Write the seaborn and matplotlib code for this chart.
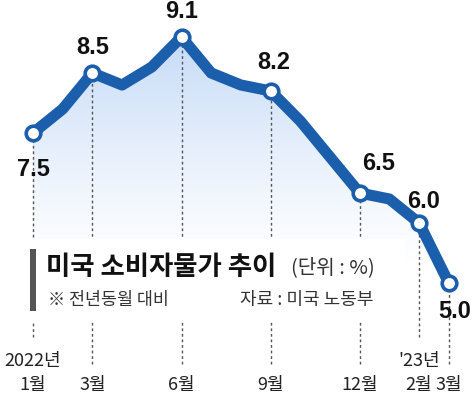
import numpy as np
import pandas as pd
import matplotlib
matplotlib.use("Agg")
import matplotlib.pyplot as plt
import matplotlib.transforms as mtrans
from matplotlib.patches import Polygon, Rectangle
import seaborn as sns

# 미국 소비자물가 상승률 (전년동월 대비, %)
months = ["2022-01", "2022-02", "2022-03", "2022-04", "2022-05", "2022-06",
          "2022-07", "2022-08", "2022-09", "2022-10", "2022-11", "2022-12",
          "2023-01", "2023-02", "2023-03"]
cpi = [7.5, 7.9, 8.5, 8.3, 8.6, 9.1, 8.5, 8.3, 8.2, 7.7, 7.1, 6.5, 6.4, 6.0, 5.0]
marked = [0, 2, 5, 8, 11, 13, 14]
tick_labels = ["1월", "3월", "6월", "9월", "12월", "2월", "3월"]
year_labels = {0: "2022년", 13: "'23년"}

# label offsets in pixels (dx, dy) for each marked point
label_offsets = [(0, -35), (0, 27), (0, 27), (3, 30), (19, 30), (4, 23), (6, -28)]

sns.set_style("white")
plt.rcParams["font.family"] = ["Noto Sans CJK KR", "DejaVu Sans"]

W, H = 474, 402
fig = plt.figure(figsize=(W / 100, H / 100), dpi=100)
ax = fig.add_axes([0, 0, 1, 1])

df = pd.DataFrame({"month": months, "cpi": cpi})
df["i"] = np.arange(len(df))

blue = "#1b5eab"
ax.set_xlim(-33 / 29.7, (W - 33) / 29.7)
ax.set_ylim(7.5 - (H - 134) / 60, 7.5 + 134 / 60)
ax.axis("off")


def px(x, y):
    return (x / W, 1 - y / H)


# gradient fill under the line
poly = Polygon(list(zip(df["i"], df["cpi"])) + [(14, 3.6), (0, 3.6)],
               closed=True, facecolor="none", edgecolor="none")
ax.add_patch(poly)
grad = np.linspace(1, 0, 256).reshape(-1, 1) ** 1.2
rgba = np.zeros((256, 1, 4))
rgba[..., 0] = 0.78
rgba[..., 1] = 0.86
rgba[..., 2] = 0.97
rgba[..., 3] = grad
im = ax.imshow(rgba, extent=(0, 14, 5.3, 9.1), aspect="auto", zorder=1,
               interpolation="bilinear")
im.set_clip_path(poly)

# dashed guides
for k, i in enumerate(marked):
    bottom = 4.1 if i in year_labels else 3.65
    ax.vlines(i, bottom, cpi[i], colors="#555555", linestyles=(0, (2, 2)),
              lw=1, zorder=2)

# white box behind the title block
ax.add_patch(Rectangle(px(22, 322), (405 - 22) / W, (322 - 240) / H,
                       transform=fig.transFigure, facecolor="white",
                       edgecolor="none", zorder=3))

sns.lineplot(data=df, x="i", y="cpi", ax=ax, color=blue, lw=8,
             solid_joinstyle="round", solid_capstyle="round", zorder=4)
ax.plot(df["i"].iloc[marked], df["cpi"].iloc[marked], "o", ms=10.5,
        mfc="white", mec=blue, mew=2.6, zorder=5)

for k, i in enumerate(marked):
    dx, dy = label_offsets[k]
    ax.annotate(f"{cpi[i]:.1f}", (i, cpi[i]), xytext=(dx, dy),
                textcoords="offset pixels", ha="center", va="center",
                fontsize=17, fontweight="bold", color="#111111",
                family=["Liberation Sans", "DejaVu Sans"], zorder=6)

# x labels
tr = mtrans.blended_transform_factory(ax.transData, fig.transFigure)
for k, i in enumerate(marked):
    ax.text(i, 1 - 385 / H, tick_labels[k], transform=tr, ha="center",
            va="center", fontsize=13, color="#222222")
    if i in year_labels:
        ax.text(i, 1 - 361 / H, year_labels[i], transform=tr, ha="center",
                va="center", fontsize=13, color="#222222")

# title block
fig.add_artist(Rectangle(px(30, 312), 6 / W, 62 / H, transform=fig.transFigure,
                         facecolor="#555555", edgecolor="none", zorder=7))
fig.text(*px(46, 268), "미국 소비자물가 추이", ha="left", va="center",
         fontsize=19, fontweight="bold", color="#111111", zorder=7)
fig.text(*px(291, 268), "(단위 : %)", ha="left", va="center",
         fontsize=14.5, color="#333333", zorder=7)
fig.text(*px(48, 300), "※ 전년동월 대비", ha="left", va="center",
         fontsize=12.5, color="#333333", zorder=7)
fig.text(*px(240, 300), "자료 : 미국 노동부", ha="left", va="center",
         fontsize=13, color="#333333", zorder=7)

fig.savefig("out.png", dpi=100)
